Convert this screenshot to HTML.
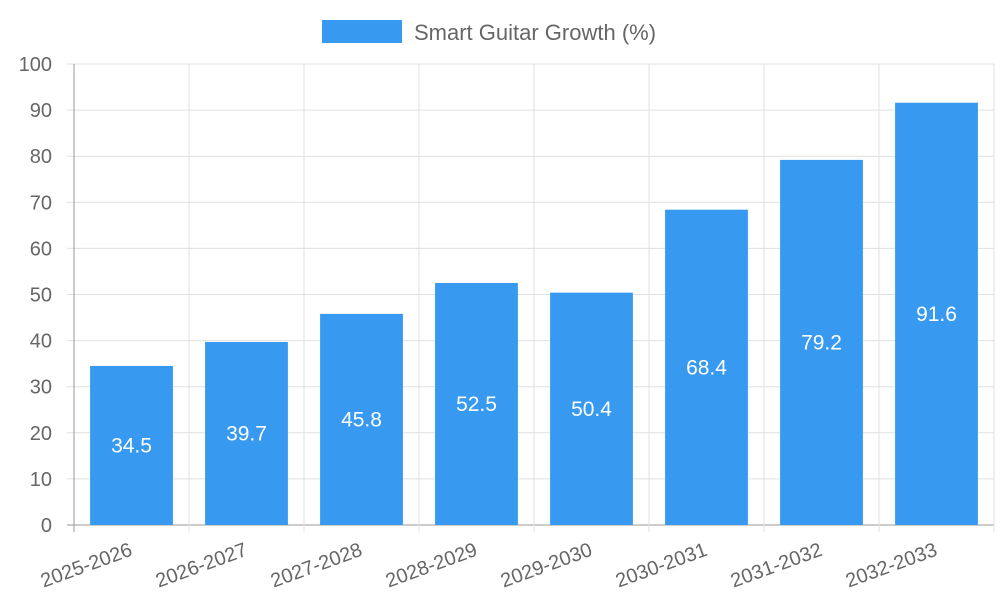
<!DOCTYPE html>
<html><head><meta charset="utf-8"><style>
html,body{margin:0;padding:0;background:#fff;}
svg{display:block;font-family:"Liberation Sans",sans-serif;}
</style></head><body>
<svg id="chart" width="1000" height="600">
<g>
<rect x="322" y="20" width="80" height="23" fill="#3799f0"></rect>
<text x="414" y="40" font-size="22" fill="#666">Smart Guitar Growth (%)</text>
</g>
<g id="grid"></g>
<g id="bars"></g>
<g id="axes"></g>
</svg>
<script>
const categories=["2025-2026","2026-2027","2027-2028","2028-2029","2029-2030","2030-2031","2031-2032","2032-2033"];
const values=[34.5,39.7,45.8,52.5,50.4,68.4,79.2,91.6];
const yTicks=[0,10,20,30,40,50,60,70,80,90,100];
const NS="http://www.w3.org/2000/svg";
const L=74,R=994,T=64,B=525,yMax=100;
const y=v=>B-(v/yMax)*(B-T);
const bw=(R-L)/categories.length;
const x=i=>L+bw*i;
function mk(tag,attrs,parent,text){const e=document.createElementNS(NS,tag);for(const k in attrs)e.setAttribute(k,attrs[k]);if(text!==undefined)e.textContent=text;parent.appendChild(e);return e;}
const grid=document.getElementById('grid'),bars=document.getElementById('bars'),axes=document.getElementById('axes');
yTicks.forEach(t=>{
 const g=mk('line',{x1:L-7,x2:R,y1:y(t),y2:y(t),stroke:t===0?'#999':'#e0e0e0','stroke-width':1},grid);
 
 
 const lb=mk('text',{x:L-22,y:y(t)+7,'text-anchor':'end','font-size':20,fill:'#666'},axes,String(t));
 
 
});
for(let i=0;i<=categories.length;i++){
 const g=mk('line',{x1:x(i),x2:x(i),y1:T,y2:B+7,stroke:i===0?'#999':'#e0e0e0','stroke-width':1},grid);
 
 
}
categories.forEach((c,i)=>{
 const cx=x(i)+bw/2,w=bw*0.72;
 const r=mk('rect',{x:cx-w/2,y:y(values[i]),width:w,height:B-y(values[i]),fill:'#3799f0'},bars);
 
 
 const v=mk('text',{x:cx,y:(y(values[i])+B)/2+7,'text-anchor':'middle','font-size':21,fill:'#fff'},bars,values[i].toFixed(1));
 
 
 const lb=mk('text',{x:cx+2,y:B+30,'text-anchor':'end','font-size':20,fill:'#666',transform:`rotate(-20 ${cx+2} ${B+30})`},axes,c);
 
 
});
</script>
</body></html>
